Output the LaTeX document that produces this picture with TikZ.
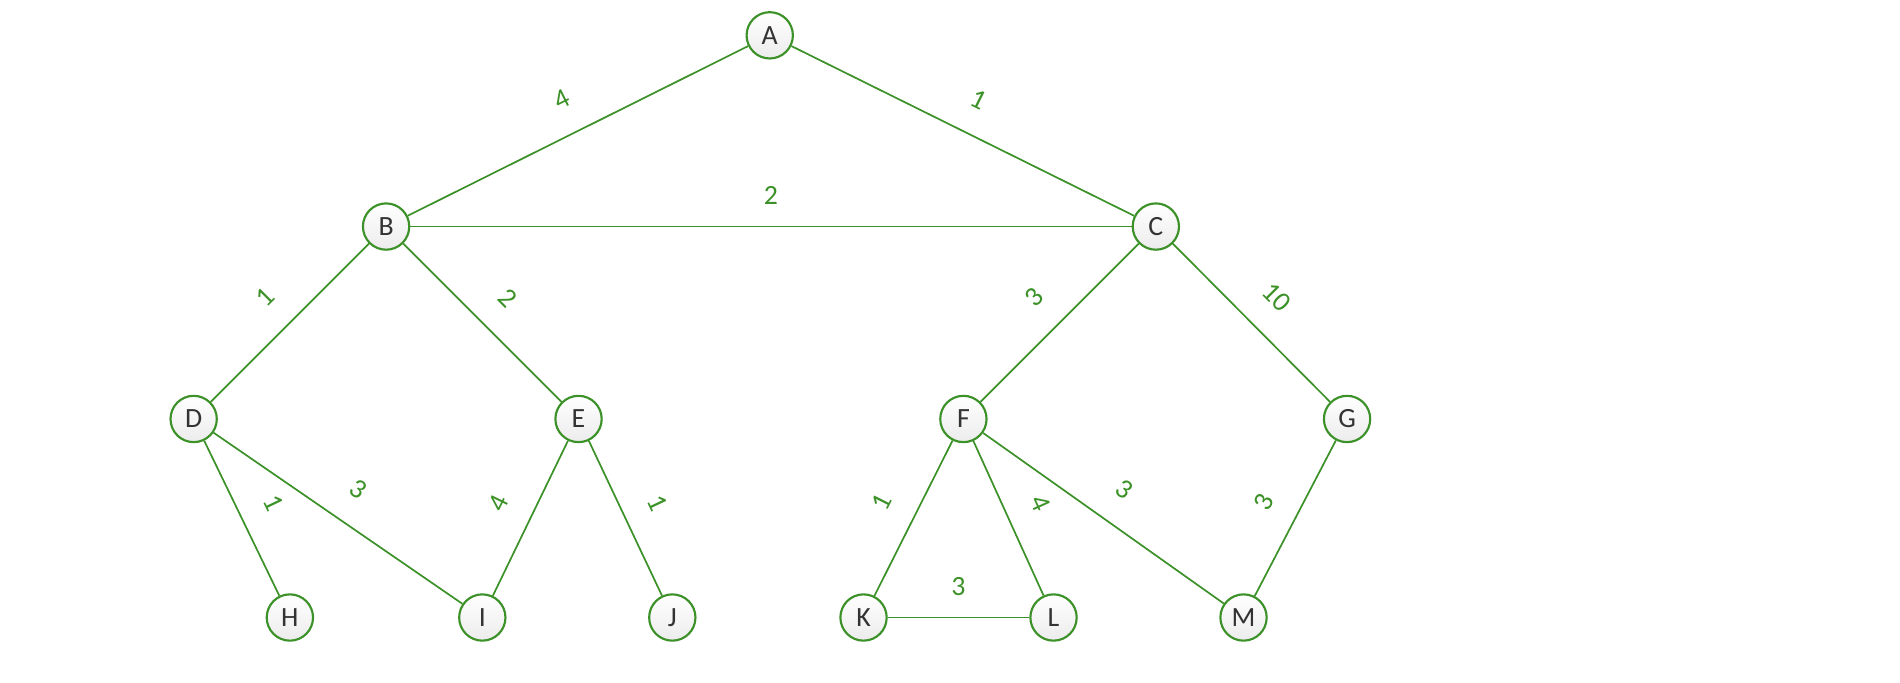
\documentclass[tikz,border=0pt]{standalone}
\usepackage{fontspec}
\setmainfont{Carlito}
\definecolor{gr}{RGB}{60,145,40}
\begin{document}
\begin{tikzpicture}[x=0.01cm,y=-0.01cm,
  vert/.style={circle,draw=gr,line width=0.5pt,minimum size=0.38cm,inner sep=0pt,top color=white,bottom color=gray!15,font=\fontsize{6.5}{8}\selectfont,text=black!80},
  edge/.style={draw=gr,line width=0.4pt},
  wt/.style={midway,above,sloped,font=\fontsize{6.5}{8}\selectfont,text=gr,inner sep=6pt}]
\useasboundingbox (0,0) rectangle (1560,560);
\node[vert] (A) at (632,29) {A};
\node[vert] (B) at (317,186) {B};
\node[vert] (C) at (949,186) {C};
\node[vert] (D) at (159,344) {D};
\node[vert] (E) at (475,344) {E};
\node[vert] (F) at (791,344) {F};
\node[vert] (G) at (1106,344) {G};
\node[vert] (H) at (238,507) {H};
\node[vert] (I) at (396,507) {I};
\node[vert] (J) at (552,507) {J};
\node[vert] (K) at (709,507) {K};
\node[vert] (L) at (865,507) {L};
\node[vert] (M) at (1021,507) {M};
\draw[edge] (A) -- node[wt] {4} (B);
\draw[edge] (A) -- node[wt] {1} (C);
\draw[edge] (B) -- node[wt,inner sep=5pt] {2} (C);
\draw[edge] (B) -- node[wt] {1} (D);
\draw[edge] (B) -- node[wt] {2} (E);
\draw[edge] (C) -- node[wt] {3} (F);
\draw[edge] (C) -- node[wt] {10} (G);
\draw[edge] (D) -- node[wt] {1} (H);
\draw[edge] (D) -- node[wt] {3} (I);
\draw[edge] (E) -- node[wt] {4} (I);
\draw[edge] (E) -- node[wt] {1} (J);
\draw[edge] (F) -- node[wt] {1} (K);
\draw[edge] (F) -- node[wt] {4} (L);
\draw[edge] (F) -- node[wt] {3} (M);
\draw[edge] (G) -- node[wt] {3} (M);
\draw[edge] (K) -- node[wt,inner sep=5pt] {3} (L);
\end{tikzpicture}
\end{document}
